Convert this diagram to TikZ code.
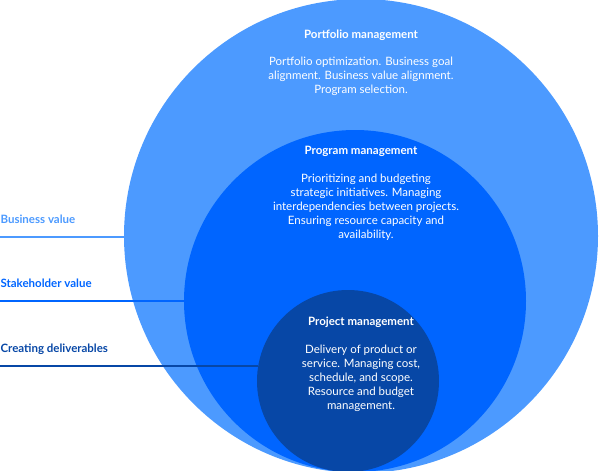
\documentclass[tikz,border=0pt]{standalone}
\usepackage{fontspec}
\setmainfont{Lato}
\begin{document}
\begin{tikzpicture}[x=1pt,y=-1pt,
  lbl/.style={anchor=west,font=\bfseries\fontsize{11.5}{14}\selectfont},
  ttl/.style={text=white,font=\bfseries\fontsize{11.5}{14}\selectfont},
  body/.style={text=white,align=center,font=\fontsize{11.5}{14}\selectfont}]
\useasboundingbox (0,0) rectangle (600,471);
\clip (0,0) rectangle (600,471);
\definecolor{c1}{HTML}{4C9AFF}
\definecolor{c2}{HTML}{0065FF}
\definecolor{c3}{HTML}{0747A6}
\fill[c1] (361,236) circle (237);
\fill[c2] (355,301) circle (171);
\fill[c3] (348,381) circle (91);
\coordinate (e1) at (124,237);
\coordinate (e2) at (185,301);
\coordinate (e3) at (258,366);
\coordinate (s1) at (0,237);
\coordinate (s2) at (0,301);
\coordinate (s3) at (0,366);
\draw[c1,line width=1.2] (s1) -- (e1);
\draw[c2,line width=1.2] (s2) -- (e2);
\draw[c3,line width=1.2] (s3) -- (e3);
\node[lbl,text=c1] (bv) at (-3,219) {Business value};
\node[lbl,text=c2] (sv) at (-3,283) {Stakeholder value};
\node[lbl,text=c3] (cd) at (-3,349) {Creating deliverables};
\node[ttl] (t1) at (361,35) {Portfolio management};
\node[body] (b1) at (361,76) {Portfolio optimization. Business goal\\alignment. Business value alignment.\\Program selection.};
\node[ttl] (t2) at (361,151) {Program management};
\node[body] (b2) at (366,207) {Prioritizing and budgeting\\strategic initiatives. Managing\\interdependencies between projects.\\Ensuring resource capacity and\\availability.};
\node[ttl] (t3) at (361,322) {Project management};
\node[body] (b3) at (361,378) {Delivery of product or\\service. Managing cost,\\schedule, and scope.\\Resource and budget\\management.};
\end{tikzpicture}
\end{document}
